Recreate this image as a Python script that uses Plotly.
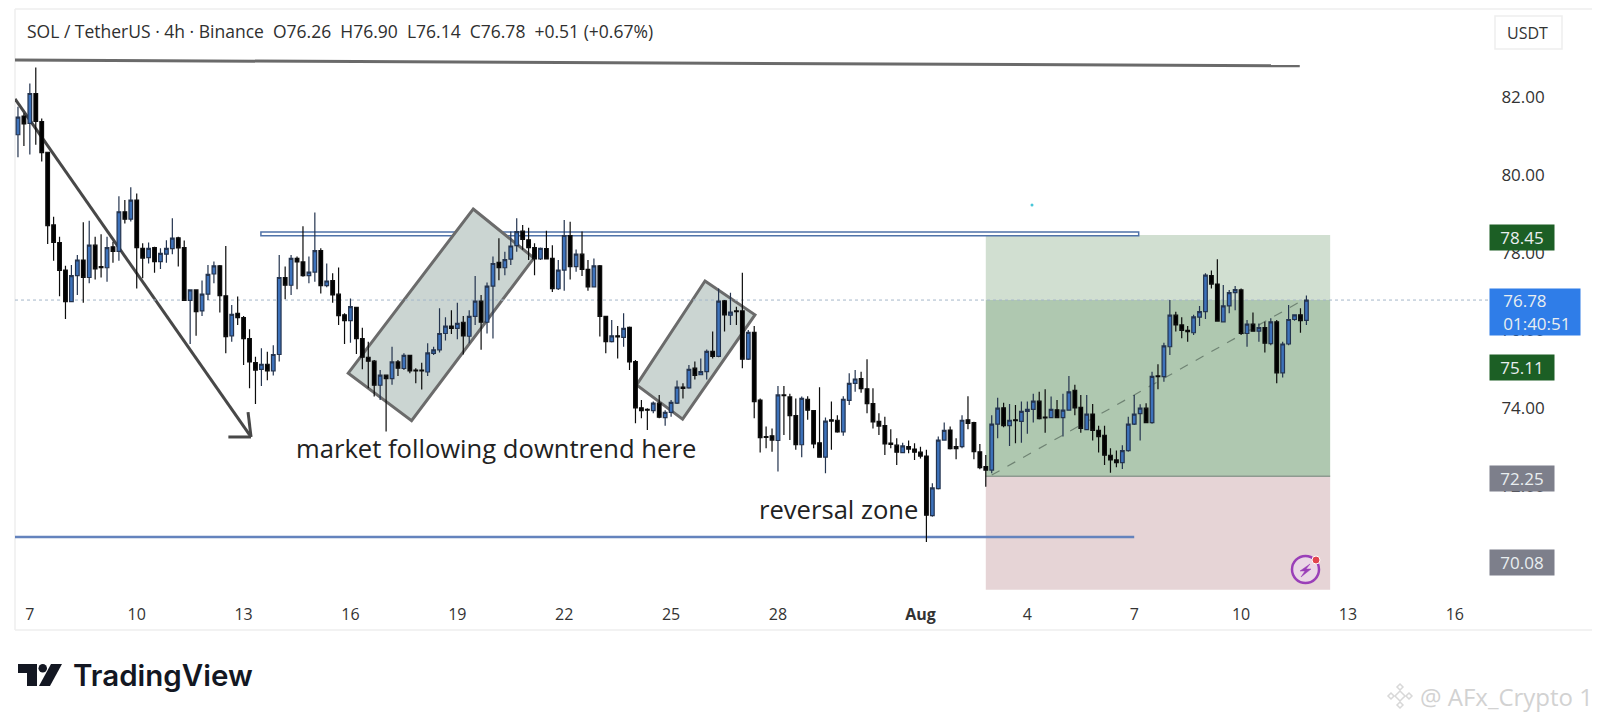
import pandas as pd
import plotly.graph_objects as go

# 4h SOL/USDT candles
opens = [
    81.03, 81.51, 81.32, 82.09, 81.37, 80.58, 78.71, 78.26, 77.55, 76.74,
    77.41, 77.81, 77.36, 78.19, 77.64, 77.61, 78.15, 78.03, 79.05, 78.86,
    79.35, 78.11, 77.87, 78.13, 77.77, 77.96, 78.10, 78.38, 78.13, 76.77,
    77.04, 76.50, 76.93, 77.45, 77.66, 76.89, 75.86, 76.44, 76.33, 75.79,
    75.17, 75.00, 75.13, 74.96, 75.38, 77.36, 77.16, 77.85, 77.76, 77.41,
    77.50, 78.05, 77.15, 77.28, 76.93, 76.40, 76.25, 76.59, 75.79, 75.31,
    75.21, 74.59, 74.85, 74.76, 75.19, 75.02, 75.36, 74.98, 74.98, 74.93,
    75.41, 75.50, 75.92, 76.11, 76.05, 76.21, 75.85, 76.36, 76.75, 76.21,
    77.14, 77.75, 77.61, 77.83, 78.18, 78.55, 78.33, 78.13, 77.84, 78.10,
    77.85, 77.07, 77.55, 78.44, 77.64, 77.96, 77.57, 77.12, 77.66, 76.36,
    75.71, 75.86, 75.82, 76.08, 75.20, 74.01, 73.97, 73.94, 74.13, 73.76,
    73.89, 74.13, 74.54, 74.52, 75.03, 74.86, 74.94, 75.46, 75.33, 76.76,
    76.39, 76.50, 76.50, 75.26, 75.95, 74.21, 73.27, 73.29, 73.17, 74.34,
    74.29, 73.81, 73.06, 74.23, 73.94, 73.11, 72.74, 73.70, 73.69, 73.39,
    74.20, 74.64, 74.76, 74.50, 74.12, 73.66, 73.55, 73.10, 73.05, 72.86,
    73.01, 72.95, 72.87, 72.77, 71.24, 71.93, 73.18, 73.44, 73.01, 73.01,
    73.70, 73.63, 72.88, 72.50, 72.41, 73.59, 74.01, 73.55, 73.70, 73.66,
    73.92, 73.97, 74.18, 73.77, 73.76, 73.96, 73.76, 73.95, 74.46, 74.02,
    73.45, 73.85, 73.43, 73.30, 72.79, 72.67, 72.60, 72.91, 73.59, 73.86,
    74.00, 73.63, 74.83, 74.81, 75.58, 76.39, 76.14, 76.00, 75.94, 76.34,
    76.48, 77.41, 77.19, 76.22, 76.63, 76.97, 77.04, 75.92, 76.16, 75.98,
    76.07, 75.66, 76.22, 74.91, 75.65, 76.28, 76.40, 76.26,
]
highs = [
    81.75, 81.58, 82.35, 82.76, 81.45, 80.59, 78.92, 78.41, 77.66, 77.68,
    77.94, 78.78, 78.82, 78.41, 78.47, 78.41, 78.28, 79.45, 79.35, 79.68,
    79.52, 78.24, 78.26, 78.15, 78.11, 78.32, 78.88, 78.41, 78.31, 77.04,
    77.06, 77.28, 77.68, 77.77, 77.68, 78.17, 76.65, 76.87, 76.37, 76.03,
    75.32, 75.54, 75.45, 75.62, 77.94, 77.64, 77.94, 77.90, 78.68, 77.90,
    79.03, 78.11, 77.72, 77.47, 77.62, 76.44, 76.82, 76.61, 76.07, 75.71,
    75.24, 74.98, 74.85, 75.58, 75.24, 75.41, 75.37, 75.03, 75.17, 75.67,
    75.58, 76.57, 76.34, 76.52, 76.71, 76.37, 76.52, 77.40, 76.91, 77.23,
    77.90, 78.37, 78.02, 78.54, 78.88, 78.71, 78.64, 78.24, 78.13, 78.56,
    78.19, 77.81, 78.84, 78.79, 78.08, 78.54, 77.81, 77.85, 77.68, 76.37,
    76.27, 76.11, 76.44, 76.10, 75.24, 74.21, 74.00, 74.17, 74.34, 73.95,
    74.21, 74.71, 74.64, 75.11, 75.20, 75.28, 75.51, 75.97, 77.08, 76.78,
    76.97, 76.61, 77.48, 76.01, 76.11, 74.25, 73.53, 73.48, 74.57, 74.57,
    74.37, 74.25, 74.30, 74.31, 73.95, 74.54, 73.76, 74.17, 73.82, 74.31,
    74.90, 74.98, 74.94, 75.26, 74.51, 73.87, 73.78, 73.46, 73.23, 73.11,
    73.17, 73.10, 73.01, 72.93, 72.07, 73.27, 73.63, 73.53, 73.23, 73.82,
    74.31, 73.65, 73.08, 72.80, 73.82, 74.27, 74.14, 74.11, 74.08, 74.17,
    74.17, 74.37, 74.42, 74.49, 74.30, 74.21, 74.37, 74.83, 74.60, 74.34,
    74.34, 74.11, 73.55, 73.55, 72.97, 72.91, 73.05, 73.78, 74.34, 74.10,
    74.13, 74.94, 75.13, 75.68, 76.78, 76.48, 76.34, 76.11, 76.40, 76.63,
    77.47, 77.54, 77.83, 77.17, 77.04, 77.14, 77.08, 76.27, 76.46, 76.18,
    76.22, 76.31, 76.27, 75.71, 76.65, 76.41, 76.57, 76.90,
]
lows = [
    80.45, 80.74, 80.52, 80.77, 80.34, 78.22, 77.79, 76.88, 76.29, 76.74,
    76.91, 76.71, 77.21, 77.31, 77.36, 77.25, 77.74, 77.79, 78.75, 78.80,
    77.08, 77.34, 77.72, 77.48, 77.58, 77.74, 77.96, 77.64, 76.77, 75.65,
    75.86, 76.37, 76.78, 77.21, 76.46, 75.41, 75.71, 76.14, 75.11, 74.51,
    74.11, 74.57, 74.72, 74.84, 75.20, 76.80, 76.91, 77.06, 77.38, 77.21,
    77.25, 76.95, 77.11, 76.71, 76.14, 75.65, 75.68, 75.39, 75.00, 74.51,
    74.30, 74.21, 73.40, 74.60, 74.83, 74.98, 74.90, 74.64, 74.48, 74.83,
    75.37, 75.43, 75.74, 75.91, 75.77, 75.38, 75.67, 76.14, 75.50, 75.92,
    75.79, 77.29, 77.42, 77.68, 78.02, 78.07, 77.81, 77.42, 77.81, 77.83,
    76.99, 77.04, 77.02, 77.31, 77.51, 77.40, 77.02, 77.11, 75.84, 75.41,
    75.69, 75.28, 75.58, 74.98, 73.61, 73.74, 73.44, 73.87, 73.74, 73.55,
    73.78, 74.11, 74.25, 74.50, 74.74, 74.85, 74.74, 75.28, 75.31, 75.97,
    76.14, 76.14, 75.03, 75.24, 73.74, 72.86, 72.97, 72.88, 72.37, 73.31,
    73.18, 72.93, 72.74, 73.70, 72.97, 72.74, 72.33, 72.93, 73.37, 73.29,
    74.08, 74.42, 74.40, 73.87, 73.48, 73.31, 72.80, 72.97, 72.54, 72.84,
    72.84, 72.67, 72.71, 70.56, 71.21, 71.91, 73.17, 72.94, 72.69, 72.97,
    73.46, 72.69, 72.43, 71.98, 72.33, 73.23, 73.51, 73.03, 73.10, 73.11,
    73.34, 73.63, 73.71, 73.37, 73.74, 73.74, 73.27, 73.94, 73.82, 73.37,
    73.44, 73.17, 72.86, 72.54, 72.34, 72.48, 72.44, 72.88, 73.57, 73.17,
    73.61, 73.60, 74.49, 74.68, 75.37, 75.97, 75.80, 75.71, 75.88, 76.11,
    76.29, 77.08, 76.22, 76.20, 76.44, 76.52, 75.88, 75.58, 75.97, 75.71,
    75.43, 75.62, 74.64, 74.79, 75.62, 76.25, 75.94, 76.14,
]
closes = [
    81.48, 81.31, 82.09, 81.37, 80.57, 78.69, 78.26, 77.54, 76.74, 77.41,
    77.81, 77.36, 78.19, 77.58, 77.61, 78.13, 78.03, 79.05, 78.86, 79.35,
    78.13, 77.86, 78.11, 77.77, 77.98, 78.11, 78.37, 78.12, 76.77, 77.04,
    76.48, 76.93, 77.44, 77.66, 76.89, 75.84, 76.41, 76.33, 75.79, 75.19,
    74.98, 75.13, 74.96, 75.38, 77.36, 77.16, 77.85, 77.76, 77.41, 77.50,
    78.05, 77.15, 77.27, 76.91, 76.38, 76.25, 76.61, 75.79, 75.31, 75.21,
    74.59, 74.85, 74.76, 75.19, 75.03, 75.36, 74.96, 74.96, 74.96, 75.42,
    75.50, 75.92, 76.11, 76.05, 76.18, 75.86, 76.36, 76.75, 76.21, 77.14,
    77.72, 77.61, 77.82, 78.17, 78.54, 78.34, 78.13, 77.84, 78.11, 77.84,
    77.07, 77.55, 78.44, 77.64, 77.96, 77.57, 77.12, 77.66, 76.36, 75.71,
    75.86, 75.83, 76.05, 75.19, 74.01, 73.94, 73.95, 74.13, 73.77, 73.89,
    74.15, 74.54, 74.51, 75.00, 74.84, 74.94, 75.46, 75.33, 76.75, 76.40,
    76.47, 76.48, 75.26, 75.95, 74.17, 73.24, 73.25, 73.18, 74.34, 74.32,
    73.81, 73.06, 74.25, 73.95, 73.08, 72.74, 73.67, 73.67, 73.39, 74.23,
    74.64, 74.75, 74.50, 74.12, 73.65, 73.54, 73.08, 73.07, 72.87, 73.03,
    72.95, 72.87, 72.77, 71.25, 71.95, 73.18, 73.43, 72.96, 72.96, 73.69,
    73.61, 72.88, 72.47, 72.41, 73.59, 74.00, 73.55, 73.69, 73.68, 73.92,
    73.97, 74.18, 73.73, 73.75, 73.97, 73.76, 73.95, 74.42, 74.01, 73.48,
    73.85, 73.43, 73.27, 72.79, 72.67, 72.60, 72.91, 73.59, 73.85, 74.00,
    73.63, 74.82, 74.81, 75.60, 76.39, 76.14, 76.00, 75.97, 76.35, 76.48,
    77.42, 77.19, 76.24, 76.63, 76.97, 77.05, 75.92, 76.16, 75.98, 76.07,
    75.67, 76.22, 74.91, 75.65, 76.28, 76.40, 76.25, 76.78,
]

price_ticks = [72, 74, 76, 78, 80, 82]
date_ticks = ["2026-07-07", "2026-07-10", "2026-07-13", "2026-07-16", "2026-07-19", "2026-07-22", "2026-07-25",
              "2026-07-28", "2026-08-01", "2026-08-04", "2026-08-07", "2026-08-10", "2026-08-13", "2026-08-16"]
date_labels = ["7", "10", "13", "16", "19", "22", "25", "28", "<b>Aug</b>", "4", "7", "10", "13", "16"]

header = "SOL / TetherUS · 4h · Binance  O76.26  H76.90  L76.14  C76.78  +0.51 (+0.67%)"
last_price = 76.78
target_price = 78.45
entry_price = 75.11
stop_price = 72.25
low_price = 70.08

times = pd.date_range("2026-07-06 16:00", periods=len(opens), freq="4h")

# plot area in page pixels, used for the chrome around the chart
# the page body has an 8px margin, so the figure itself starts at (8, 8)
L, R, T, B = 15, 1488, 9, 592
BODY = 8


def px(x):
    return (x - L) / (R - L)


def py(y):
    return (B - y) / (B - T)


def page_path(points, close=True):
    s = " ".join(("M" if i == 0 else "L") + f" {px(x):.5f} {py(y):.5f}" for i, (x, y) in enumerate(points))
    return s + (" Z" if close else "")


fig = go.Figure()
fig.add_trace(
    go.Candlestick(
        x=times,
        open=opens,
        high=highs,
        low=lows,
        close=closes,
        increasing=dict(line=dict(color="#24344f", width=1.2), fillcolor="#3d72bb"),
        decreasing=dict(line=dict(color="#0c0c0c", width=1.2), fillcolor="#000000"),
        whiskerwidth=0,
        hoverinfo="skip",
        showlegend=False,
    )
)

shapes = []


def line(x0, y0, x1, y1, color, width, dash="solid"):
    shapes.append(dict(type="line", layer="below", x0=x0, y0=y0, x1=x1, y1=y1,
                       line=dict(color=color, width=width, dash=dash)))


def box(x0, y0, x1, y1, fill, border=None, width=0):
    shapes.append(dict(type="rect", layer="below", x0=x0, y0=y0, x1=x1, y1=y1, fillcolor=fill,
                       line=dict(color=border or fill, width=width)))


def channel(corners):
    d = " ".join(("M" if i == 0 else "L") + f" {t.replace(' ', '_')} {p}" for i, (t, p) in enumerate(corners)) + " Z"
    shapes.append(dict(type="path", layer="below", path=d, fillcolor="#cbd5d2",
                       line=dict(color="#6b6b6b", width=3)))


# long position tool
box("2026-08-02 20:00", last_price, "2026-08-12 12:00", target_price, "#d1dfd1")
box("2026-08-02 20:00", stop_price, "2026-08-12 12:00", last_price, "#afc8b0")
box("2026-08-02 20:00", 69.33, "2026-08-12 12:00", stop_price, "#e6d4d6")
line("2026-08-02 20:00", stop_price, "2026-08-12 12:00", stop_price, "#8e9a90", 1.5)

# hand drawn levels and channels
line("2026-07-06 14:00", 82.95, "2026-08-11 15:30", 82.80, "#6a6a6a", 3)
line("2026-07-06 14:00", 70.69, "2026-08-07 00:00", 70.69, "#6483bd", 2.5)
box("2026-07-13 11:40", 78.43, "2026-08-07 03:00", 78.53, "#ffffff", "#4f72a8", 1.5)
channel([("2026-07-19 10:40", 79.12), ("2026-07-21 03:35", 77.86), ("2026-07-17 17:10", 73.68), ("2026-07-15 22:30", 74.90)])
channel([("2026-07-25 22:50", 77.27), ("2026-07-27 08:30", 76.40), ("2026-07-25 07:45", 73.72), ("2026-07-24 00:45", 74.60)])
line("2026-07-06 14:00", 81.95, "2026-07-13 05:00", 73.26, "#484848", 3)
line("2026-07-12 13:45", 73.26, "2026-07-13 05:00", 73.26, "#484848", 3)
line("2026-07-13 03:00", 73.90, "2026-07-13 05:00", 73.26, "#484848", 3)

line("2026-08-03 00:00", 72.28, "2026-08-11 17:45", last_price, "#6f8373", 1.2, "dash")
line("2026-07-06 14:00", last_price, "2026-08-16 22:20", last_price, "#a4b6c9", 1, "dot")

# card frame and USDT button
for pts in ([(L, 9), (1600, 9)], [(L, 9), (L, 630)], [(L, 630), (1600, 630)]):
    shapes.append(dict(type="path", xref="paper", yref="paper", layer="below", path=page_path(pts, close=False),
                       line=dict(color="#eeeeee", width=1.5)))
shapes.append(dict(type="rect", xref="paper", yref="paper", x0=px(1495), x1=px(1562), y0=py(16), y1=py(49),
                   line=dict(color="#eeeeee", width=1.5), fillcolor="#ffffff", layer="below"))

# lightning badge
shapes.append(dict(type="circle", xref="paper", yref="paper", x0=px(1292), x1=px(1319), y0=py(556), y1=py(583),
                   line=dict(color="#9a3fb8", width=2.5), fillcolor="#ead7e6"))
shapes.append(dict(type="path", xref="paper", yref="paper", fillcolor="#9a3fb8", line=dict(color="#9a3fb8", width=0.5),
                   path=page_path([(1310, 564), (1300, 571), (1305, 571), (1301, 577), (1311, 569), (1306, 569)])))
shapes.append(dict(type="circle", xref="paper", yref="paper", x0=px(1312), x1=px(1320), y0=py(556), y1=py(564),
                   line=dict(color="#ffffff", width=1), fillcolor="#e2454f"))

# stray cyan dot on the chart
shapes.append(dict(type="circle", xref="paper", yref="paper", x0=px(1030.5), x1=px(1033.5), y0=py(203.5), y1=py(206.5),
                   line=dict(width=0), fillcolor="#48c6d8"))

# TradingView logo mark
shapes.append(dict(type="path", xref="paper", yref="paper", fillcolor="#131722", line=dict(width=0),
                   path=page_path([(18, 664), (37, 664), (37, 686), (27, 686), (27, 673), (18, 673)])))
shapes.append(dict(type="circle", xref="paper", yref="paper", x0=px(38.5), x1=px(47), y0=py(664), y1=py(672.5),
                   fillcolor="#131722", line=dict(width=0)))
shapes.append(dict(type="path", xref="paper", yref="paper", fillcolor="#131722", line=dict(width=0),
                   path=page_path([(51, 664), (62, 664), (50, 686), (39, 686)])))

# watermark diamonds
for cx, cy, r in [(1400, 696, 5), (1391, 696, 3), (1409, 696, 3), (1400, 687, 3), (1400, 705, 3)]:
    shapes.append(dict(type="path", xref="paper", yref="paper", line=dict(color="#d8d8d8", width=1.5),
                       path=page_path([(cx, cy - r), (cx + r, cy), (cx, cy + r), (cx - r, cy)])))

annotations = [
    dict(x=px(24.5), y=py(31), xref="paper", yref="paper", xanchor="left", yanchor="middle",
         text=header.replace("  ", "&nbsp;&nbsp;"), showarrow=False, font=dict(size=17.5, color="#2f2f2f")),
    dict(x=px(1528), y=py(33), xref="paper", yref="paper", xanchor="center", yanchor="middle", text="USDT",
         showarrow=False, font=dict(size=16, color="#333333")),
    dict(x="2026-07-20 02:00", y=72.97, text="market following downtrend here", showarrow=False,
         font=dict(size=25.6, color="#222222")),
    dict(x="2026-07-29 16:30", y=71.40, text="reversal zone", showarrow=False,
         font=dict(size=25.6, color="#222222")),
    dict(x=px(71), y=py(675), xref="paper", yref="paper", xanchor="left", yanchor="middle",
         text="TradingView", showarrow=False, font=dict(family="Inter", size=29.5, weight=600, color="#131722")),
    dict(x=px(1418), y=py(696), xref="paper", yref="paper", xanchor="left", yanchor="middle",
         text="@ AFx_Crypto 1", showarrow=False, font=dict(size=24, color="#d2d2d2")),
]


def price_tag(value, color, text=None, width=64, height=25, shift=-2, align="center"):
    annotations.append(dict(x=1, xref="paper", y=value, yref="y", xanchor="left", xshift=1, yshift=shift,
                            text=text or f"{value:.2f}", showarrow=False, bgcolor=color, width=width, height=height,
                            borderpad=0, align=align, font=dict(size=17, color="#e9eef0")))


price_tag(target_price, "#1c5f25")
price_tag(entry_price, "#1c5f25")
price_tag(stop_price, "#7d7f8b")
price_tag(low_price, "#7d7f8b")
price_tag(last_price, "#2f7de8", text=f"&nbsp;&nbsp;&nbsp;{last_price:.2f}<br>&nbsp;&nbsp;&nbsp;01:40:51",
          width=90, height=46, shift=-12, align="left")

fig.update_layout(
    width=1600 - BODY,
    height=720 - BODY,
    margin=dict(l=L - BODY, r=1600 - R, t=T - BODY, b=720 - B),
    autosize=False,
    paper_bgcolor="#ffffff",
    plot_bgcolor="#ffffff",
    font=dict(family="Open Sans", color="#333333"),
    shapes=shapes,
    annotations=annotations,
    showlegend=False,
    boxgap=0.12,
    xaxis=dict(
        type="date",
        range=["2026-07-06 14:00", "2026-08-16 22:20"],
        rangeslider=dict(visible=False),
        tickmode="array",
        tickvals=date_ticks,
        ticktext=date_labels,
        ticks="outside",
        ticklen=8,
        tickcolor="#ffffff",
        tickfont=dict(size=16, color="#333333"),
        showgrid=False,
        showline=False,
        zeroline=False,
    ),
    yaxis=dict(
        side="right",
        range=[69.275, 84.262],
        tickmode="array",
        tickvals=price_ticks,
        ticktext=[f"{v:.2f}" for v in price_ticks],
        ticks="outside",
        ticklen=9,
        tickcolor="#ffffff",
        tickfont=dict(size=17, color="#333333"),
        showgrid=False,
        showline=False,
        zeroline=False,
    ),
)

fig.write_html("out.html")
